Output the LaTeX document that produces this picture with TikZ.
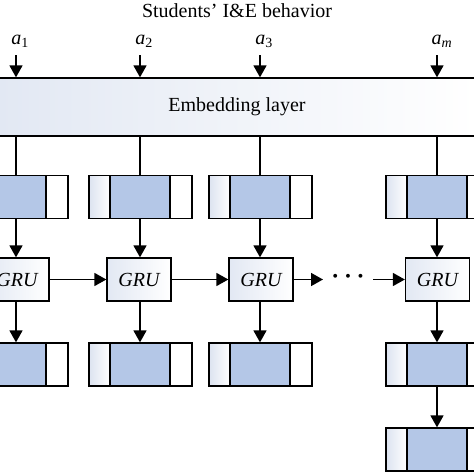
\documentclass[tikz,border=0pt]{standalone}
\usepackage{fontspec}
\setmainfont{Liberation Serif}
\usetikzlibrary{arrows.meta}

\definecolor{cellblue}{HTML}{B4C7E7}
\definecolor{celllight}{HTML}{DCE3F0}
\definecolor{boxleft}{HTML}{E2E8F3}

\tikzset{
  link/.style={line width=1.6pt, -{Triangle[width=13pt,length=12pt]}},
  cellline/.style={line width=1.3pt},
  cell/.style={draw, line width=1.3pt, minimum width=103pt, minimum height=43pt, inner sep=0pt},
  gru/.style={draw, line width=1.3pt, minimum width=64pt, minimum height=43pt, inner sep=0pt,
    left color=boxleft, right color=white, font=\fontsize{20}{24}\selectfont\itshape},
  txt/.style={font=\fontsize{20}{24}\selectfont, inner sep=0pt},
}

\begin{document}
\begin{tikzpicture}[x=1pt, y=-1pt]
        \useasboundingbox (0,0) rectangle (474,474);
        \clip (0,0) rectangle (474,474);

        % The title and the inputs
        \node[txt] (title) at (237,11) {Students’ I\&E behavior};
        \node[txt] (a1) at (20,41) {\textit{a}\textsubscript{1}};
        \node[txt] (a2) at (144,41) {\textit{a}\textsubscript{2}};
        \node[txt] (a3) at (264,41) {\textit{a}\textsubscript{3}};
        \node[txt] (am) at (442,41) {\textit{a}\textsubscript{\textit{m}}};

        % The embedding layer
        \node[draw, line width=1.3pt, minimum width=480pt, minimum height=58pt,
          left color=boxleft, middle color=white, right color=white,
          txt] (emb) at (237,107) {Embedding layer};

        \foreach \x/\n in {16/1, 140/2, 260/3, 437/m}
          \coordinate (t\n) at (\x,55);
        \foreach \n in {1,2,3,m}
          \draw[link] (t\n) -- (emb.north -| t\n);

        % The boxes
        \foreach \x/\n/\y in {16/e1/197, 140/e2/197, 260/e3/197, 437/em/197,
                              16/h1/364.5, 140/h2/364.5, 260/h3/364.5, 437/hm/364.5,
                              437/km/449.5} {
          \shade[left color=celllight, right color=white] (\x-51,\y-21.5) rectangle (\x-30,\y+21.5);
          \fill[cellblue] (\x-30,\y-21.5) rectangle (\x+30,\y+21.5);
          \node[cell] (\n) at (\x+0.5,\y) {};
          \draw[cellline] (\x-30,\y-21.5) -- (\x-30,\y+21.5)
                          (\x+30,\y-21.5) -- (\x+30,\y+21.5);
        }

        % The GRU units
        \node[gru] (g1) at (17,279.5) {GRU};
        \node[gru] (g2) at (139,279.5) {GRU};
        \node[gru] (g3) at (261,279.5) {GRU};
        \node[gru] (gm) at (437.5,279.5) {GRU};

        \node[txt, font=\fontsize{26}{28}\selectfont] (dots) at (348,277) {{\boldmath$\cdots$}};
        \coordinate (d1) at (323,279.5);
        \coordinate (d2) at (373,279.5);

        % The edges
        \foreach \n in {1,2,3,m} {
          \draw[cellline, line width=1.6pt] (emb.south -| t\n) -- (e\n.north -| t\n);
          \draw[link] (e\n.south -| t\n) -- (g\n.north -| t\n);
          \draw[link] (g\n.south -| t\n) -- (h\n.north -| t\n);
        }
        \draw[link] (hm.south -| tm) -- (km.north -| tm);

        \draw[link] (g1) -- (g2);
        \draw[link] (g2) -- (g3);
        \draw[link] (g3) -- (d1);
        \draw[link] (d2) -- (gm);

    \end{tikzpicture}
\end{document}
